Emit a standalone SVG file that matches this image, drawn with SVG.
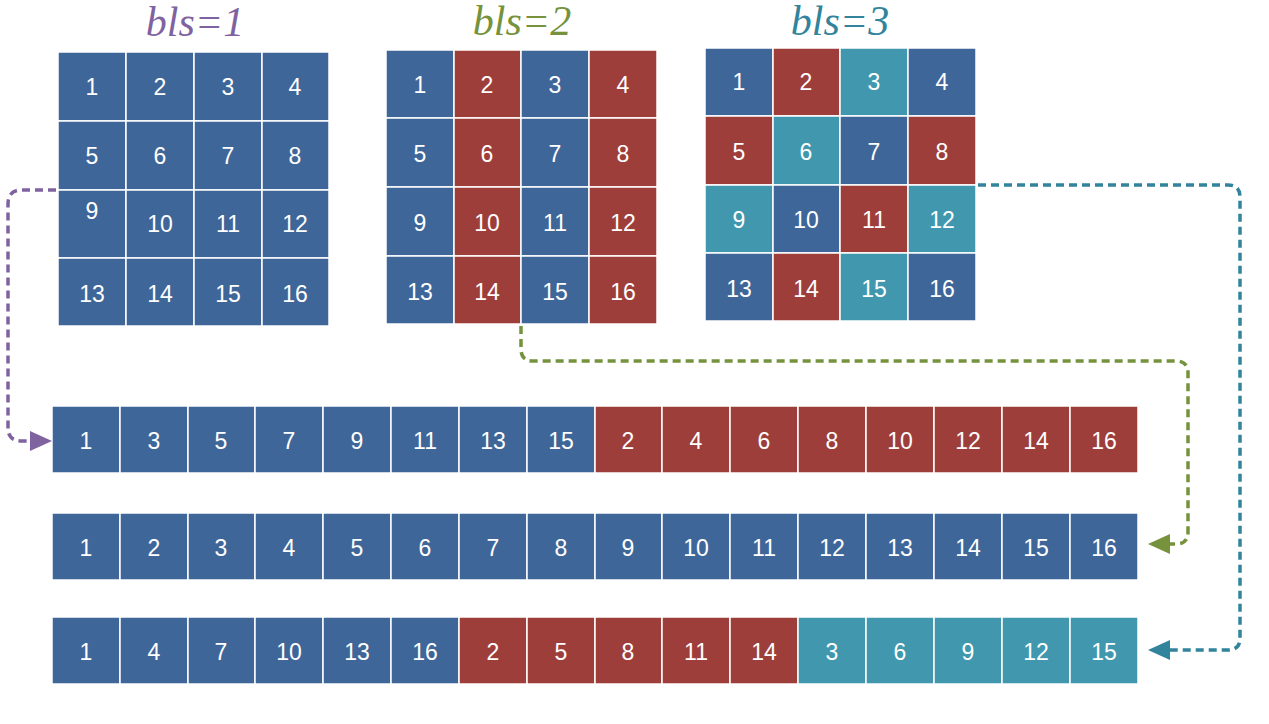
<svg xmlns="http://www.w3.org/2000/svg" width="1269" height="724" viewBox="0 0 1269 724">
<style>
.b{fill:#3F6699;stroke:#fff;stroke-width:1.5}
.r{fill:#9E3E3B;stroke:#fff;stroke-width:1.5}
.t{fill:#4198AE;stroke:#fff;stroke-width:1.5}
text{font-family:"Liberation Sans",Arial,sans-serif;font-size:23px;fill:#fff;text-anchor:middle;dominant-baseline:central}
.h{font-family:"Liberation Serif",serif;font-style:italic;font-size:42px}
.c{fill:none;stroke-width:3.5;stroke-dasharray:8,5}
</style>
<text class="h" x="195" y="22" style="fill:#7F63A0">bls=1</text>
<text class="h" x="522" y="21" style="fill:#76923C">bls=2</text>
<text class="h" x="840" y="21" style="fill:#31849B">bls=3</text>
<g id="grid1">
<rect class="b" x="58" y="52" width="68" height="69"/><text x="92" y="87">1</text>
<rect class="b" x="126" y="52" width="68" height="69"/><text x="160" y="87">2</text>
<rect class="b" x="194" y="52" width="68" height="69"/><text x="228" y="87">3</text>
<rect class="b" x="262" y="52" width="67" height="69"/><text x="295" y="87">4</text>
<rect class="b" x="58" y="121" width="68" height="69"/><text x="92" y="156">5</text>
<rect class="b" x="126" y="121" width="68" height="69"/><text x="160" y="156">6</text>
<rect class="b" x="194" y="121" width="68" height="69"/><text x="228" y="156">7</text>
<rect class="b" x="262" y="121" width="67" height="69"/><text x="295" y="156">8</text>
<rect class="b" x="58" y="190" width="68" height="68"/><text x="92" y="211">9</text>
<rect class="b" x="126" y="190" width="68" height="68"/><text x="160" y="224">10</text>
<rect class="b" x="194" y="190" width="68" height="68"/><text x="228" y="224">11</text>
<rect class="b" x="262" y="190" width="67" height="68"/><text x="295" y="224">12</text>
<rect class="b" x="58" y="258" width="68" height="68"/><text x="92" y="294">13</text>
<rect class="b" x="126" y="258" width="68" height="68"/><text x="160" y="294">14</text>
<rect class="b" x="194" y="258" width="68" height="68"/><text x="228" y="294">15</text>
<rect class="b" x="262" y="258" width="67" height="68"/><text x="295" y="294">16</text>
</g>
<g id="grid2">
<rect class="b" x="386" y="50" width="68" height="68"/><text x="420" y="85">1</text>
<rect class="r" x="454" y="50" width="67" height="68"/><text x="487" y="85">2</text>
<rect class="b" x="521" y="50" width="68" height="68"/><text x="555" y="85">3</text>
<rect class="r" x="589" y="50" width="68" height="68"/><text x="623" y="85">4</text>
<rect class="b" x="386" y="118" width="68" height="69"/><text x="420" y="154">5</text>
<rect class="r" x="454" y="118" width="67" height="69"/><text x="487" y="154">6</text>
<rect class="b" x="521" y="118" width="68" height="69"/><text x="555" y="154">7</text>
<rect class="r" x="589" y="118" width="68" height="69"/><text x="623" y="154">8</text>
<rect class="b" x="386" y="187" width="68" height="69"/><text x="420" y="223">9</text>
<rect class="r" x="454" y="187" width="67" height="69"/><text x="487" y="223">10</text>
<rect class="b" x="521" y="187" width="68" height="69"/><text x="555" y="223">11</text>
<rect class="r" x="589" y="187" width="68" height="69"/><text x="623" y="223">12</text>
<rect class="b" x="386" y="256" width="68" height="68"/><text x="420" y="292">13</text>
<rect class="r" x="454" y="256" width="67" height="68"/><text x="487" y="292">14</text>
<rect class="b" x="521" y="256" width="68" height="68"/><text x="555" y="292">15</text>
<rect class="r" x="589" y="256" width="68" height="68"/><text x="623" y="292">16</text>
</g>
<g id="grid3">
<rect class="b" x="705" y="48" width="68" height="68"/><text x="739" y="82">1</text>
<rect class="r" x="773" y="48" width="67" height="68"/><text x="806" y="82">2</text>
<rect class="t" x="840" y="48" width="68" height="68"/><text x="874" y="82">3</text>
<rect class="b" x="908" y="48" width="68" height="68"/><text x="942" y="82">4</text>
<rect class="r" x="705" y="116" width="68" height="69"/><text x="739" y="152">5</text>
<rect class="t" x="773" y="116" width="67" height="69"/><text x="806" y="152">6</text>
<rect class="b" x="840" y="116" width="68" height="69"/><text x="874" y="152">7</text>
<rect class="r" x="908" y="116" width="68" height="69"/><text x="942" y="152">8</text>
<rect class="t" x="705" y="185" width="68" height="68"/><text x="739" y="220">9</text>
<rect class="b" x="773" y="185" width="67" height="68"/><text x="806" y="220">10</text>
<rect class="r" x="840" y="185" width="68" height="68"/><text x="874" y="220">11</text>
<rect class="t" x="908" y="185" width="68" height="68"/><text x="942" y="220">12</text>
<rect class="b" x="705" y="253" width="68" height="68"/><text x="739" y="289">13</text>
<rect class="r" x="773" y="253" width="67" height="68"/><text x="806" y="289">14</text>
<rect class="t" x="840" y="253" width="68" height="68"/><text x="874" y="289">15</text>
<rect class="b" x="908" y="253" width="68" height="68"/><text x="942" y="289">16</text>
</g>
<g id="row1">
<rect class="b" x="52" y="406" width="68" height="67"/><text x="86" y="441">1</text>
<rect class="b" x="120" y="406" width="68" height="67"/><text x="154" y="441">3</text>
<rect class="b" x="188" y="406" width="67" height="67"/><text x="221" y="441">5</text>
<rect class="b" x="255" y="406" width="68" height="67"/><text x="289" y="441">7</text>
<rect class="b" x="323" y="406" width="68" height="67"/><text x="357" y="441">9</text>
<rect class="b" x="391" y="406" width="68" height="67"/><text x="425" y="441">11</text>
<rect class="b" x="459" y="406" width="68" height="67"/><text x="493" y="441">13</text>
<rect class="b" x="527" y="406" width="68" height="67"/><text x="561" y="441">15</text>
<rect class="r" x="595" y="406" width="67" height="67"/><text x="628" y="441">2</text>
<rect class="r" x="662" y="406" width="68" height="67"/><text x="696" y="441">4</text>
<rect class="r" x="730" y="406" width="68" height="67"/><text x="764" y="441">6</text>
<rect class="r" x="798" y="406" width="68" height="67"/><text x="832" y="441">8</text>
<rect class="r" x="866" y="406" width="68" height="67"/><text x="900" y="441">10</text>
<rect class="r" x="934" y="406" width="68" height="67"/><text x="968" y="441">12</text>
<rect class="r" x="1002" y="406" width="68" height="67"/><text x="1036" y="441">14</text>
<rect class="r" x="1070" y="406" width="68" height="67"/><text x="1104" y="441">16</text>
</g>
<g id="row2">
<rect class="b" x="52" y="513" width="68" height="67"/><text x="86" y="548">1</text>
<rect class="b" x="120" y="513" width="68" height="67"/><text x="154" y="548">2</text>
<rect class="b" x="188" y="513" width="67" height="67"/><text x="221" y="548">3</text>
<rect class="b" x="255" y="513" width="68" height="67"/><text x="289" y="548">4</text>
<rect class="b" x="323" y="513" width="68" height="67"/><text x="357" y="548">5</text>
<rect class="b" x="391" y="513" width="68" height="67"/><text x="425" y="548">6</text>
<rect class="b" x="459" y="513" width="68" height="67"/><text x="493" y="548">7</text>
<rect class="b" x="527" y="513" width="68" height="67"/><text x="561" y="548">8</text>
<rect class="b" x="595" y="513" width="67" height="67"/><text x="628" y="548">9</text>
<rect class="b" x="662" y="513" width="68" height="67"/><text x="696" y="548">10</text>
<rect class="b" x="730" y="513" width="68" height="67"/><text x="764" y="548">11</text>
<rect class="b" x="798" y="513" width="68" height="67"/><text x="832" y="548">12</text>
<rect class="b" x="866" y="513" width="68" height="67"/><text x="900" y="548">13</text>
<rect class="b" x="934" y="513" width="68" height="67"/><text x="968" y="548">14</text>
<rect class="b" x="1002" y="513" width="68" height="67"/><text x="1036" y="548">15</text>
<rect class="b" x="1070" y="513" width="68" height="67"/><text x="1104" y="548">16</text>
</g>
<g id="row3">
<rect class="b" x="52" y="617" width="68" height="67"/><text x="86" y="652">1</text>
<rect class="b" x="120" y="617" width="68" height="67"/><text x="154" y="652">4</text>
<rect class="b" x="188" y="617" width="67" height="67"/><text x="221" y="652">7</text>
<rect class="b" x="255" y="617" width="68" height="67"/><text x="289" y="652">10</text>
<rect class="b" x="323" y="617" width="68" height="67"/><text x="357" y="652">13</text>
<rect class="b" x="391" y="617" width="68" height="67"/><text x="425" y="652">16</text>
<rect class="r" x="459" y="617" width="68" height="67"/><text x="493" y="652">2</text>
<rect class="r" x="527" y="617" width="68" height="67"/><text x="561" y="652">5</text>
<rect class="r" x="595" y="617" width="67" height="67"/><text x="628" y="652">8</text>
<rect class="r" x="662" y="617" width="68" height="67"/><text x="696" y="652">11</text>
<rect class="r" x="730" y="617" width="68" height="67"/><text x="764" y="652">14</text>
<rect class="t" x="798" y="617" width="68" height="67"/><text x="832" y="652">3</text>
<rect class="t" x="866" y="617" width="68" height="67"/><text x="900" y="652">6</text>
<rect class="t" x="934" y="617" width="68" height="67"/><text x="968" y="652">9</text>
<rect class="t" x="1002" y="617" width="68" height="67"/><text x="1036" y="652">12</text>
<rect class="t" x="1070" y="617" width="68" height="67"/><text x="1104" y="652">15</text>
</g>
<g id="connectors">
<path class="c" stroke="#7F63A0" d="M56,190 H22 Q8,190 8,204 V428 Q8,441 22,441 H30"/>
<path d="M30,431 L52,441 L30,451z" fill="#7F63A0"/>
<path class="c" stroke="#76923C" d="M521,326 V349 Q521,361 533,361 H1176 Q1188,361 1188,373 V532 Q1188,544 1176,544 H1170"/>
<path d="M1170,534 L1148,544 L1170,554z" fill="#76923C"/>
<path class="c" stroke="#31849B" d="M978,185 H1228 Q1240,185 1240,197 V638 Q1240,650 1228,650 H1170"/>
<path d="M1170,640 L1148,650 L1170,660z" fill="#31849B"/>
</g>
</svg>
